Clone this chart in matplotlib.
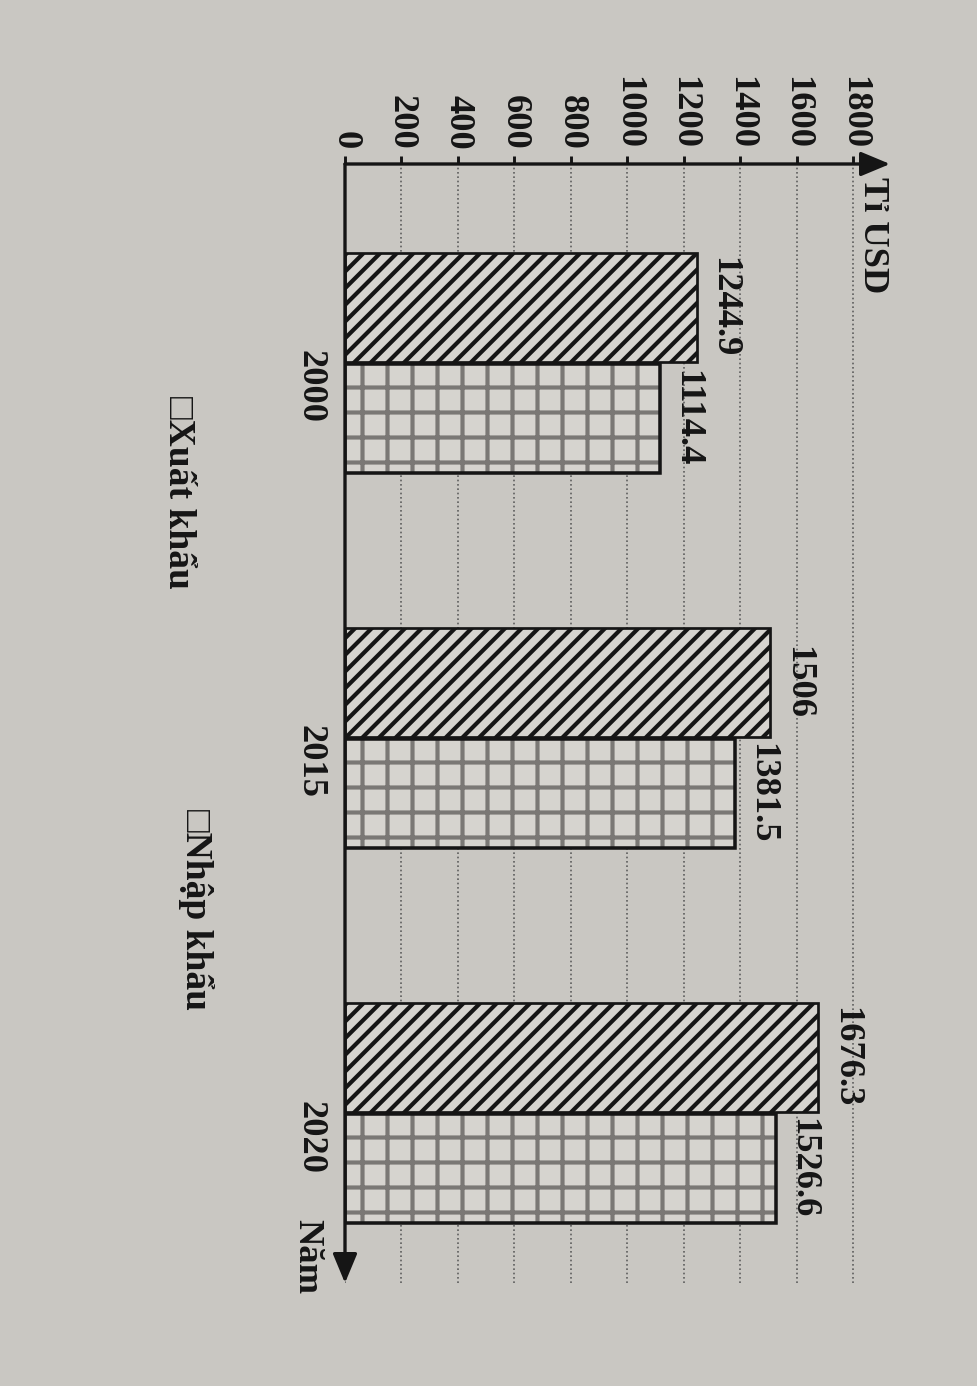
import numpy as np
import matplotlib
matplotlib.use("Agg")
import matplotlib.pyplot as plt

# data (ti USD)
years = ["2000", "2015", "2020"]
xuat_khau = [1244.9, 1506, 1676.3]
nhap_khau = [1114.4, 1381.5, 1526.6]
value_ticks = [0, 200, 400, 600, 800, 1000, 1200, 1400, 1600, 1800]

PAPER = "#c9c7c2"
FILL = "#d6d4cf"
INK = "#151515"
FONT = ["Liberation Serif", "DejaVu Sans"]
FS = 17.5

plt.rcParams["font.family"] = FONT
plt.rcParams["font.weight"] = "bold"
plt.rcParams["hatch.linewidth"] = 2.0

W, H, DPI = 977, 1386, 150
fig = plt.figure(figsize=(W / DPI, H / DPI), dpi=DPI, facecolor=PAPER)

# axes box in pixels: value axis along the top, year axis down the left
x0, x1, y0, y1 = 345, 890, 164, 1283
ax = fig.add_axes([x0 / W, 1 - y1 / H, (x1 - x0) / W, (y1 - y0) / H])
ax.set_facecolor(PAPER)
ax.set_xlim(0, 1930)
ax.set_ylim(2.453, -0.53)

pos = np.arange(len(years))
h = 0.29
b1 = ax.barh(pos - 0.148, xuat_khau, height=h, color=FILL, edgecolor=INK,
             linewidth=1.3, hatch="///", zorder=3)
# import bars: lighter grid hatch, black outline drawn on top
b2 = ax.barh(pos + 0.148, nhap_khau, height=h, color=FILL, edgecolor="#7a7875",
             linewidth=0, hatch="+", zorder=3)
b2o = ax.barh(pos + 0.148, nhap_khau, height=h, fill=False, edgecolor=INK,
              linewidth=1.7, zorder=4)

ax.bar_label(b1, fmt="{:g}", rotation=270, padding=5, fontsize=FS,
             fontweight="bold", color=INK)
ax.bar_label(b2o, fmt="{:g}", rotation=270, padding=5, fontsize=FS,
             fontweight="bold", color=INK)

# dotted gridlines
ax.set_xticks(value_ticks)
ax.grid(axis="x", linestyle=(0, (1, 1.6)), color="#5e5e5e", linewidth=0.8, zorder=1)
ax.xaxis.tick_top()
ax.tick_params(axis="x", direction="out", length=4, width=1.4, color=INK,
               labelrotation=270, labelsize=FS, pad=3, labelcolor=INK)
ax.set_yticks(pos)
ax.set_yticklabels(years, rotation=270, fontsize=FS, color=INK)
ax.tick_params(axis="y", length=0, pad=9)
for s in ax.spines.values():
    s.set_visible(False)

# arrowed axes
arr = dict(arrowstyle="-|>,head_length=0.6,head_width=0.25", lw=1.6,
           color=INK, shrinkA=0, shrinkB=0, mutation_scale=20)
ax.annotate("", xy=(1, 1), xytext=(0, 1), xycoords="axes fraction",
            arrowprops=arr, annotation_clip=False)
ax.annotate("", xy=(0, 0), xytext=(0, 1), xycoords="axes fraction",
            arrowprops=arr, annotation_clip=False)

ax.text(0.968, 0.988, "Tỉ USD", transform=ax.transAxes, rotation=270,
        ha="center", va="top", fontsize=FS, color=INK)
ax.text(-0.07, 0.024, "Năm", transform=ax.transAxes, rotation=270,
        ha="center", va="center", fontsize=FS, color=INK)

# legend written as text with hollow squares
fig.text(178 / W, 1 - 493 / H, "□Xuất khẩu", rotation=270, ha="center",
         va="center", fontsize=18, color=INK)
fig.text(196 / W, 1 - 910 / H, "□Nhập khẩu", rotation=270, ha="center",
         va="center", fontsize=18, color=INK)

fig.savefig("out.png", dpi=DPI, facecolor=PAPER)
